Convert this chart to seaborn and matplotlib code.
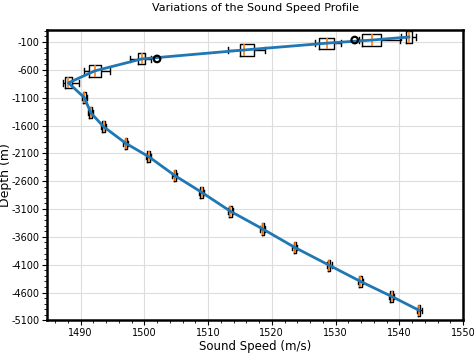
import numpy as np
import pandas as pd
import matplotlib
matplotlib.use('Agg')
import matplotlib.pyplot as plt
from matplotlib.ticker import MultipleLocator
import seaborn as sns

plt.rcParams['axes.unicode_minus'] = False

# depth levels (m) and five-number summaries of sound speed (m/s) at each level
depth = [-10, -65, -120, -243, -404, -620, -834, -1100, -1370, -1620, -1920,
         -2160, -2500, -2800, -3140, -3460, -3790, -4110, -4400, -4670, -4920]
whis_lo = [1540.3, 1533.6, 1526.8, 1513.2, 1497.7, 1490.6, 1487.2, 1490.2, 1491.2,
           1493.2, 1496.7, 1500.3, 1504.4, 1508.6, 1513.1, 1518.2, 1523.2, 1528.6,
           1533.5, 1538.4, 1542.7]
q1 = [1541.1, 1534.1, 1527.4, 1515.0, 1499.0, 1491.4, 1487.6, 1490.4, 1491.4,
      1493.4, 1496.9, 1500.5, 1504.6, 1508.8, 1513.3, 1518.4, 1523.4, 1528.8,
      1533.7, 1538.6, 1542.9]
med = [1541.5, 1535.7, 1528.7, 1515.7, 1499.6, 1492.2, 1488.1, 1490.6, 1491.6,
       1493.6, 1497.1, 1500.7, 1504.8, 1509.0, 1513.5, 1518.6, 1523.6, 1529.0,
       1533.9, 1538.8, 1543.1]
q3 = [1542.0, 1537.2, 1529.8, 1517.2, 1500.1, 1493.2, 1488.7, 1490.8, 1491.8,
      1493.8, 1497.3, 1500.9, 1505.0, 1509.2, 1513.7, 1518.8, 1523.8, 1529.2,
      1534.1, 1539.0, 1543.3]
whis_hi = [1542.6, 1540.1, 1530.8, 1518.9, 1501.0, 1494.6, 1489.7, 1491.0, 1492.0,
           1494.0, 1497.5, 1501.1, 1505.2, 1509.4, 1513.9, 1519.0, 1524.0, 1529.4,
           1534.3, 1539.2, 1543.5]

# outliers
flier_depth = [-65, -404]
flier_speed = [1533.0, 1502.0]

rows = []
for i in range(len(depth)):
    for v in (whis_lo[i], q1[i], med[i], q3[i], whis_hi[i]):
        rows.append({'depth': depth[i], 'speed': v})
df = pd.DataFrame(rows)

fig, ax = plt.subplots(figsize=(4.74, 3.54), dpi=100)
fig.subplots_adjust(left=0.10, right=0.977, top=0.915, bottom=0.095)

box_h = 200  # box height in metres
min_gap = np.min(np.diff(sorted(depth)))
sns.boxplot(data=df, x='speed', y='depth', orient='h', native_scale=True,
            width=box_h / min_gap, whis=(0, 100), fill=False, color='black',
            linewidth=1, medianprops={'color': '#ff7f0e', 'linewidth': 1.2},
            showfliers=False, ax=ax)
sns.lineplot(x=med, y=depth, sort=False, estimator=None, color='#1f77b4',
             linewidth=2, ax=ax, zorder=5)
sns.scatterplot(x=flier_speed, y=flier_depth, marker='o', s=22,
                facecolor='none', edgecolor='black', linewidth=1.6, ax=ax, zorder=6)

ax.set_xlim(1484.8, 1550)
ax.set_ylim(-5100, 114)
ax.set_xticks(np.arange(1490, 1551, 10))
ax.set_yticks(np.arange(-100, -5101, -500))
ax.xaxis.set_minor_locator(MultipleLocator(2))
ax.yaxis.set_minor_locator(MultipleLocator(100))
ax.tick_params(labelsize=7, pad=2)
ax.tick_params(which='major', length=3.5)
ax.tick_params(which='minor', length=2)
ax.grid(True, color='#dddddd', linewidth=0.8)
ax.set_axisbelow(True)
for s in ax.spines.values():
    s.set_linewidth(1.8)
ax.set_xlabel('Sound Speed (m/s)', fontsize=8.5)
ax.set_ylabel('Depth (m)', fontsize=9)
ax.xaxis.set_label_coords(0.5, -0.068, transform=ax.transAxes)
ax.yaxis.set_label_coords(-0.085, 0.5, transform=ax.transAxes)
ax.set_title('Variations of the Sound Speed Profile', fontsize=8, pad=14)

fig.savefig('out.png', dpi=100)
